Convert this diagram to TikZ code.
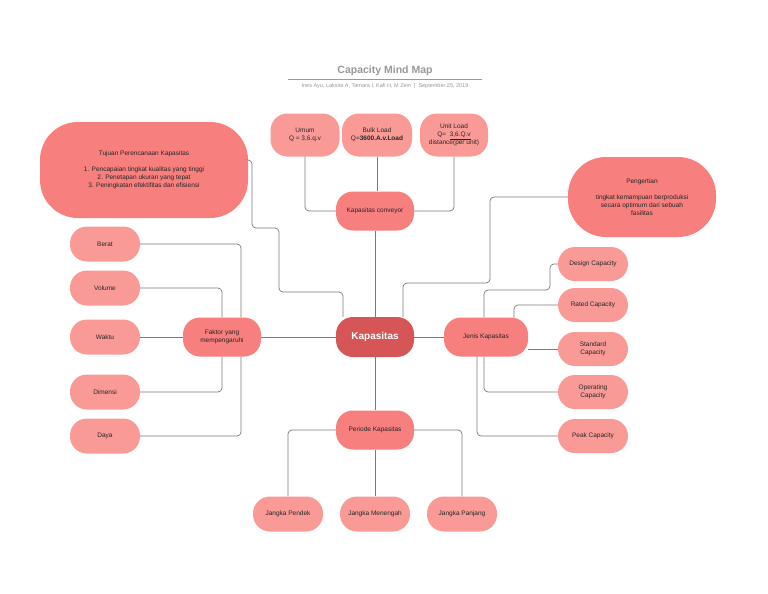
\documentclass[tikz,border=0pt]{standalone}
\usepackage{fontspec}
\setmainfont{Liberation Sans}
\begin{document}
\begin{tikzpicture}[x=1pt,y=-1pt,
  base/.style={rounded corners=17pt,align=center,font=\fontsize{6.5}{8}\selectfont,text=black!85,inner sep=1pt},
  lt/.style={base,fill=lightc,minimum width=70pt,minimum height=35pt},
  md/.style={base,fill=midc,minimum width=78pt,minimum height=39pt},
  big/.style={base,fill=midc,rounded corners=38pt},
  ln/.style={draw=linec,line width=0.7pt,rounded corners=4pt}]
\definecolor{lightc}{HTML}{F99A97}
\definecolor{midc}{HTML}{F77F7E}
\definecolor{ctrc}{HTML}{D65556}
\definecolor{linec}{HTML}{7A7A7A}
\useasboundingbox (0,0) rectangle (768,594);
\fill[white] (0,0) rectangle (768,594);
% title
\node (title) at (385,71) {\fontsize{10.5}{12}\selectfont\bfseries\color{black!40}Capacity Mind Map};
\draw[black!40,line width=0.5pt] (288,79) -- (482,79);
\node (sub) at (385,86) {\fontsize{5.5}{7}\selectfont\color{black!40}Ines Ayu, Laksita A, Tamara I, Kafi H, M Zein \ |\ \ September 25, 2019};
% nodes
\node[lt,minimum width=69pt,minimum height=43pt] (umum) at (305,135) {Umum\\Q = 3,6.q.v};
\node[lt,minimum width=70pt,minimum height=43pt] (bulk) at (377,135) {Bulk Load\\Q=\textbf{3600.A.v.Load}};
\node[lt,minimum width=68pt,minimum height=43pt] (unit) at (454,135) {Unit Load\\Q= \ \underline{3,6.Q.v}\\distance(per unit)};
\node[md] (conv) at (375,211) {Kapasitas conveyor};
\node[big,minimum width=208pt,minimum height=96pt] (tuj) at (144,170) {Tujuan Perencanaan Kapasitas\\[8pt]1. Pencapaian tingkat kualitas yang tinggi\\2. Penetapan ukuran yang tepat\\3. Peningkatan efektifitas dan efisiensi};
\node[big,minimum width=148pt,minimum height=80pt] (peng) at (642,197) {Pengertian\\[8pt]tingkat kemampuan berproduksi\\secara optimum dari sebuah\\fasilitas};
\node[base,fill=ctrc,minimum width=78pt,minimum height=40pt,text=white,font=\fontsize{10}{12}\selectfont\bfseries] (kap) at (375,337) {Kapasitas};
\node[md] (fak) at (222,337) {Faktor yang\\mempengaruhi};
\node[md,minimum width=84pt] (jen) at (486,337) {Jenis Kapasitas};
\node[md] (per) at (375,430) {Periode Kapasitas};
\node[lt] (berat) at (105,244) {Berat};
\node[lt] (vol) at (105,288) {Volume};
\node[lt] (wak) at (105,337) {Waktu};
\node[lt] (dim) at (105,392) {Dimensi};
\node[lt] (daya) at (105,436) {Daya};
\node[lt,minimum height=34pt] (des) at (593,264) {Design Capacity};
\node[lt,minimum height=34pt] (rat) at (593,305) {Rated Capacity};
\node[lt,minimum height=34pt] (std) at (593,349) {Standard\\Capacity};
\node[lt,minimum height=34pt] (ope) at (593,392) {Operating\\Capacity};
\node[lt,minimum height=34pt] (peak) at (593,436) {Peak Capacity};
\node[lt] (pen) at (288,514) {Jangka Pendek};
\node[lt] (men) at (375,514) {Jangka Menengah};
\node[lt] (pan) at (462,514) {Jangka Panjang};
% connectors
\begin{scope}[on background layer/.style={}]
\end{scope}
\draw[ln] (umum.south) -- (umum.south |- conv.west) -- (conv.west);
\draw[ln] (bulk.south) -- (bulk.south |- conv.north);
\draw[ln] (unit.south) -- (unit.south |- conv.east) -- (conv.east);
\draw[ln] (conv) -- (kap);
\draw[ln] (tuj.east |- 0,160) -- (252,160) -- (252,228) -- (279,228) -- (279,292) -- (343,292) -- (kap.north -| 343,0);
\draw[ln] (peng.west) -- (490,197) -- (490,283) -- (403,283) -- (kap.north -| 403,0);
\draw[ln] (kap) -- (fak);
\draw[ln] (kap) -- (jen);
\draw[ln] (kap) -- (per);
\draw[ln] (berat.east) -- (241,244) -- (fak.north -| 241,0);
\draw[ln] (vol.east) -- (222,288) -- (fak.north);
\draw[ln] (wak) -- (fak);
\draw[ln] (fak.south) -- (222,392) -- (dim.east);
\draw[ln] (fak.south -| 241,0) -- (241,436) -- (daya.east);
\draw[ln] (des.west) -- (550,264) -- (550,290) -- (484,290) -- (jen.north -| 484,0);
\draw[ln] (rat.west) -- (514,305) -- (jen.north -| 514,0);
\draw[ln] (jen.east |- std.west) -- (std.west);
\draw[ln] (jen.south -| 484,0) -- (484,392) -- (ope.west);
\draw[ln] (jen.south -| 477,0) -- (477,436) -- (peak.west);
\draw[ln] (per.west) -- (288,430) -- (pen.north);
\draw[ln] (per) -- (men);
\draw[ln] (per.east) -- (462,430) -- (pan.north);
\end{tikzpicture}
\end{document}
